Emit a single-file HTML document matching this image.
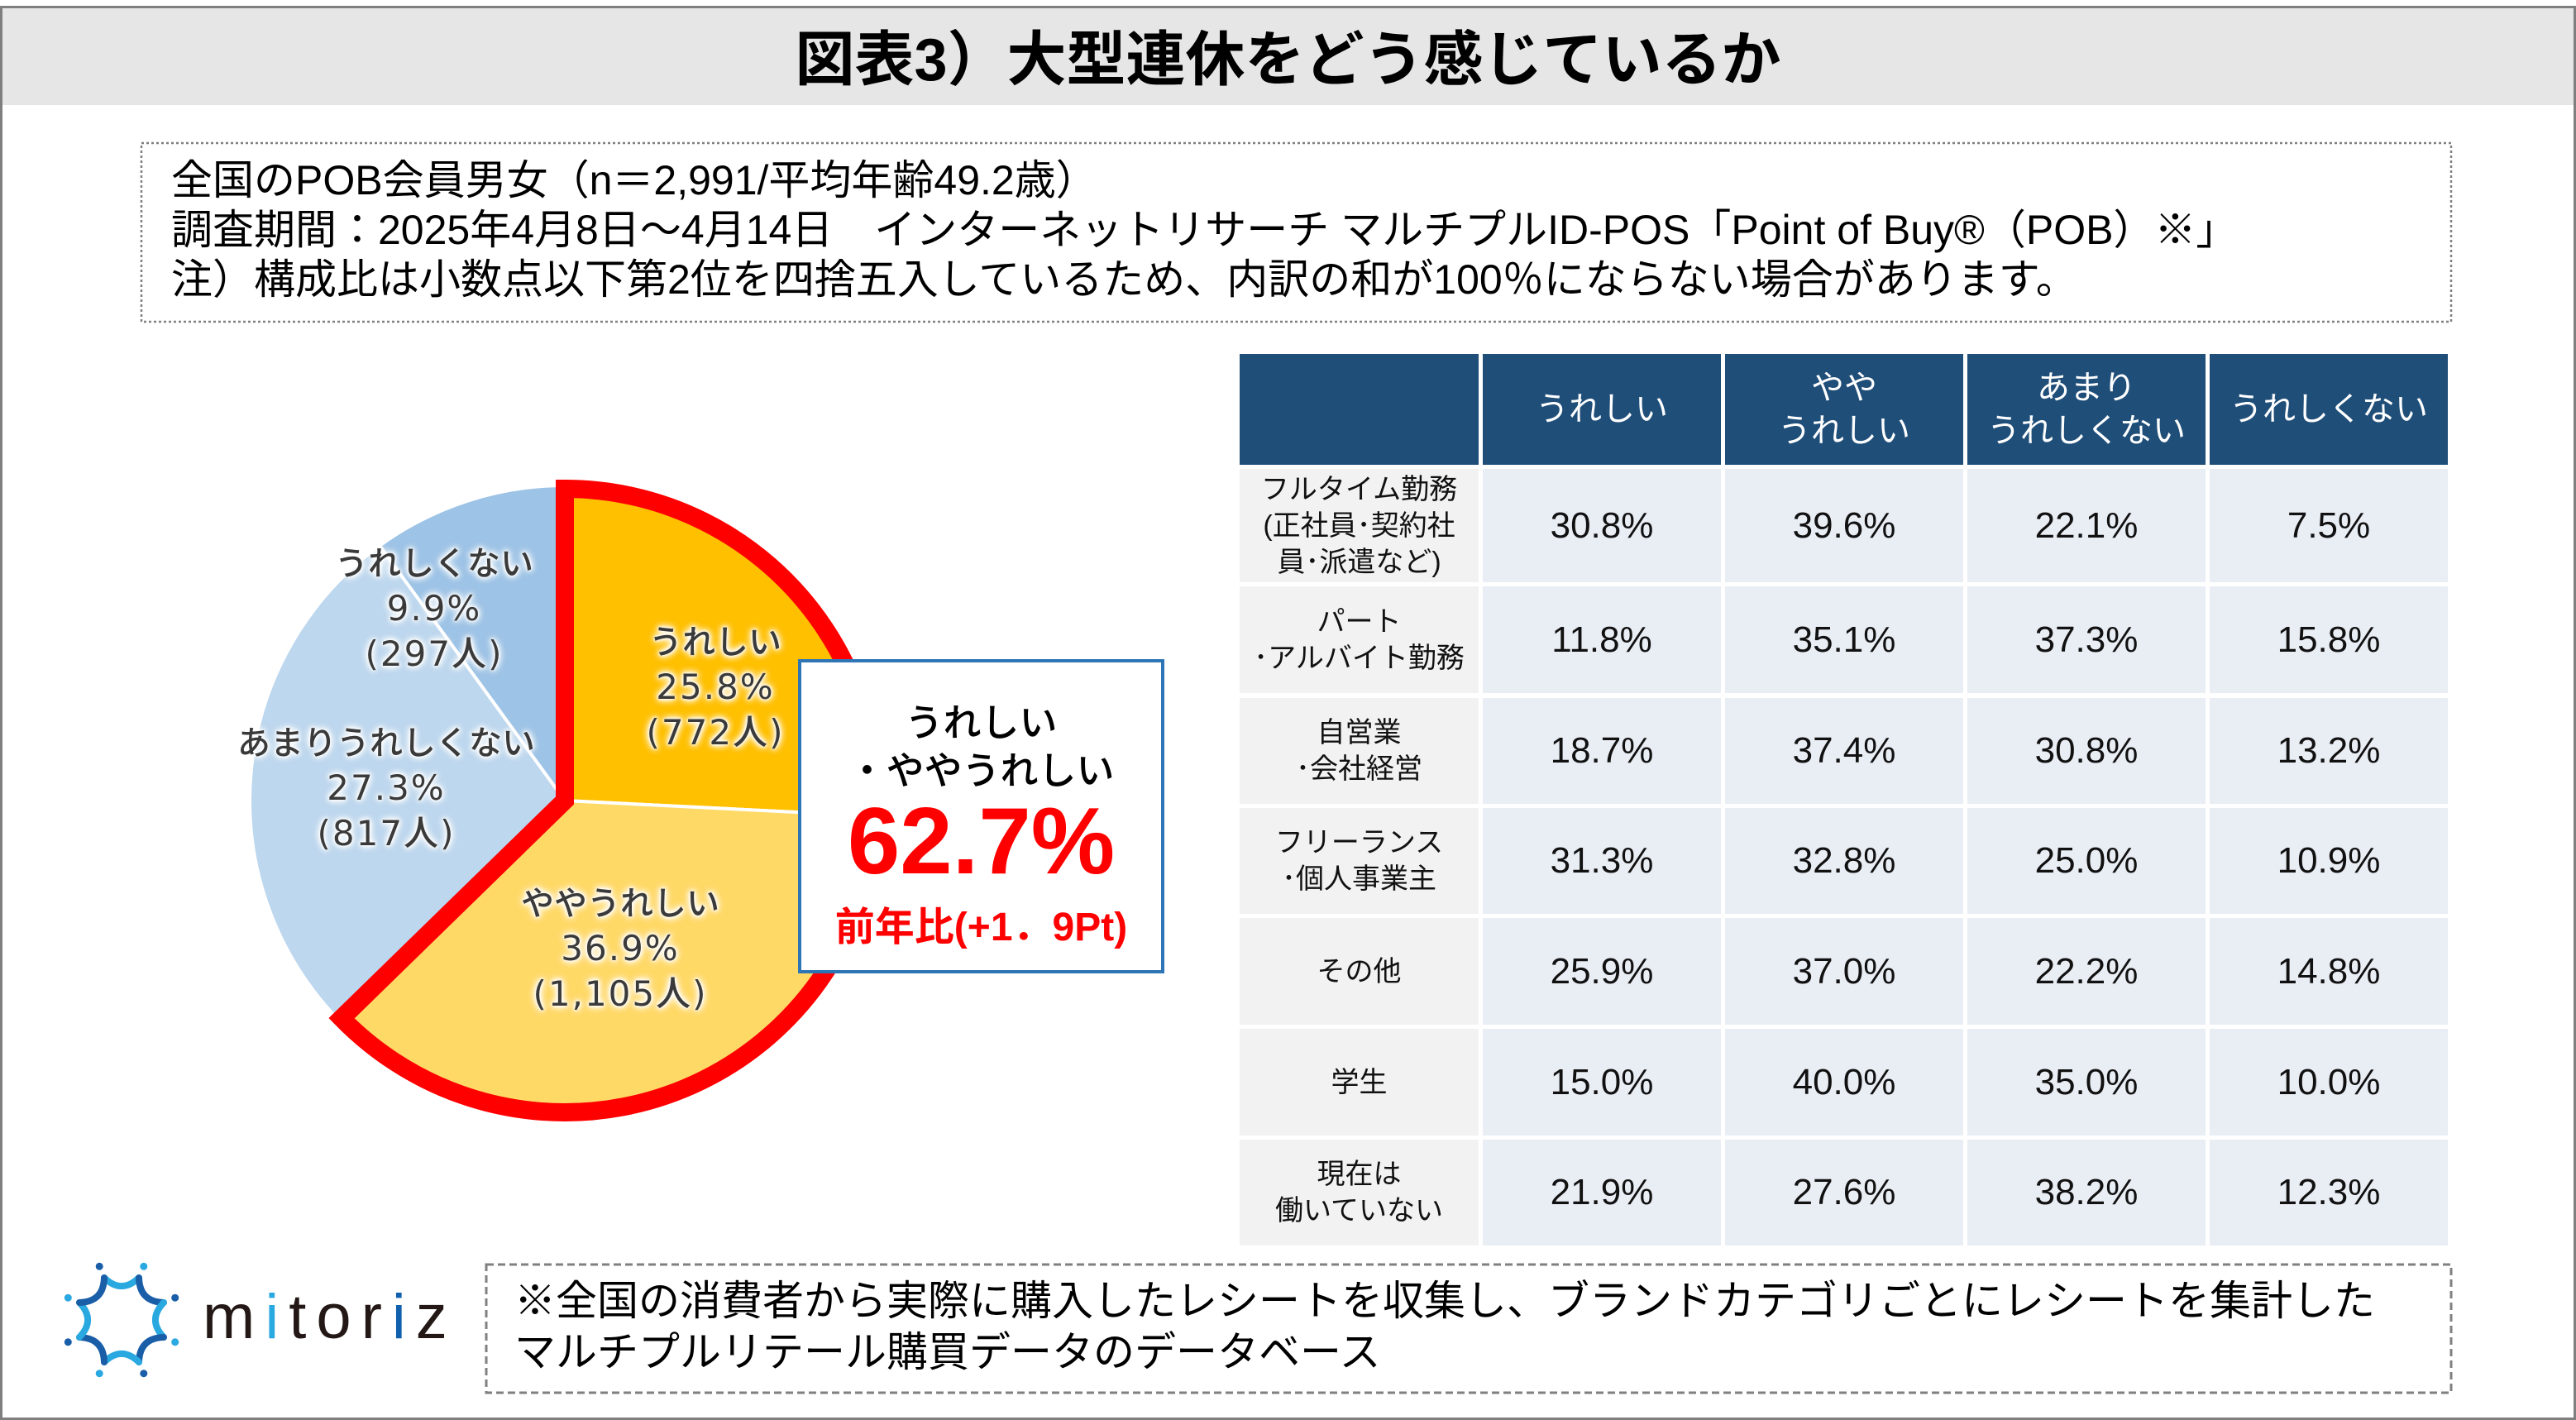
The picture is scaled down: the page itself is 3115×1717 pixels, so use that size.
<!DOCTYPE html>
<html><head><meta charset="utf-8">
<style>
*{margin:0;padding:0;box-sizing:border-box}
html,body{width:3115px;height:1717px;background:#fff;overflow:hidden}
body{position:relative;font-family:"Liberation Sans","Noto Sans CJK JP",sans-serif;color:#000}
.a{position:absolute}
#frame{left:0;top:7px;width:3115px;height:1710px;border:3px solid #7f7f7f}
#band{left:3px;top:10px;width:3109px;height:117px;background:#e6e6e6}
#title{left:0;top:15px;width:3115px;height:117px;line-height:117px;text-align:center;font-size:72px;font-weight:bold;white-space:nowrap}
.info{left:207px;font-size:50px;line-height:60px;white-space:nowrap}
.lbl{width:500px;text-align:center;font-size:40px;line-height:54px;color:#3a3a3a;font-weight:500;white-space:nowrap;
text-shadow:0 0 3px #fff,0 0 5px #fff,0 0 8px #fff,0 0 10px #fff,0 0 10px #fff}
.lbl .n{font-family:"DejaVu Sans","Noto Sans CJK JP",sans-serif;font-size:42px;letter-spacing:2px}
.c{position:absolute;display:flex;align-items:center;justify-content:center;text-align:center;white-space:nowrap}
.h{background:#1f4e79;color:#fff;font-size:40px;line-height:52px}
.l{background:#f2f2f2;font-size:34px;line-height:44px;color:#111}
.v{background:#e9edf4;font-size:44px;color:#111}
.ct{left:965px;width:443px;text-align:center;white-space:nowrap}
</style></head><body>

<div class="a" id="frame"></div>
<div class="a" id="band"></div>
<div class="a" id="title">図表3）大型連休をどう感じているか</div>

<svg class="a" style="left:0;top:0" width="3115" height="1717">
  <rect x="171" y="173" width="2793" height="216" fill="none" stroke="#808080" stroke-width="2.5" stroke-dasharray="3 3"/>
  <rect x="588" y="1529" width="2376" height="155" fill="none" stroke="#808080" stroke-width="3" stroke-dasharray="9 5"/>
  <!-- pie -->
  <path d="M683,968 L683,591 A377,377 0 0 1 1059.5,986.9 Z" fill="#FFC000" stroke="#fff" stroke-width="4"/>
  <path d="M683,968 L1059.5,986.9 A377,377 0 0 1 413.05,1231.2 Z" fill="#FFD966" stroke="#fff" stroke-width="4"/>
  <path d="M683,968 L410.2,1233.96 A381,381 0 0 1 459.1,659.8 Z" fill="#BDD7EE" stroke="#fff" stroke-width="4"/>
  <path d="M683,968 L459.1,659.8 A381,381 0 0 1 683,587 Z" fill="#9DC3E6" stroke="#fff" stroke-width="4"/>
  <path d="M683,968 L683,591 A377,377 0 1 1 413.05,1231.2 Z" fill="none" stroke="#FF0000" stroke-width="22" stroke-linejoin="miter"/>
  <!-- logo -->
  <g fill="none" stroke-width="8" stroke-linecap="round">
    <path d="M126,1545 Q147,1565.2 168,1545" stroke="#2aa8e0"/>
    <path d="M168,1545 Q168.8,1574.2 198,1575" stroke="#1a5ea8"/>
    <path d="M198,1575 Q177.8,1596 198,1617" stroke="#2aa8e0"/>
    <path d="M198,1617 Q168.8,1617.8 168,1647" stroke="#1a5ea8"/>
    <path d="M168,1647 Q147,1626.8 126,1647" stroke="#2aa8e0"/>
    <path d="M126,1647 Q125.2,1617.8 96,1617" stroke="#1a5ea8"/>
    <path d="M96,1617 Q116.2,1596 96,1575" stroke="#2aa8e0"/>
    <path d="M96,1575 Q125.2,1574.2 126,1545" stroke="#1a5ea8"/>
  </g>
  <circle cx="120.2" cy="1531.3" r="4.5" fill="#1a5ea8"/>
  <circle cx="173.8" cy="1531.3" r="4.5" fill="#2aa8e0"/>
  <circle cx="211.7" cy="1569.2" r="4.5" fill="#1a5ea8"/>
  <circle cx="211.7" cy="1622.8" r="4.5" fill="#2aa8e0"/>
  <circle cx="173.8" cy="1660.7" r="4.5" fill="#1a5ea8"/>
  <circle cx="120.2" cy="1660.7" r="4.5" fill="#2aa8e0"/>
  <circle cx="82.3" cy="1622.8" r="4.5" fill="#1a5ea8"/>
  <circle cx="82.3" cy="1569.2" r="4.5" fill="#2aa8e0"/>
  <text x="245" y="1618" font-family="Liberation Sans, sans-serif" font-size="76" letter-spacing="12" fill="#231815">m<tspan fill="#2aa8e0">i</tspan>tor<tspan fill="#1060ae">i</tspan>z</text>
</svg>

<div class="a info" style="top:188px">全国のPOB会員男女（n＝2,991/平均年齢49.2歳）</div>
<div class="a info" style="top:248px">調査期間：2025年4月8日～4月14日　インターネットリサーチ マルチプルID-POS「Point of Buy®（POB）※」</div>
<div class="a info" style="top:308px">注）構成比は小数点以下第2位を四捨五入しているため、内訳の和が100％にならない場合があります。</div>

<!-- pie labels -->
<div class="a lbl" style="left:275px;top:655px">うれしくない<br><span class="n">9.9%</span><br><span class="n">(297人)</span></div>
<div class="a lbl" style="left:615px;top:750px">うれしい<br><span class="n">25.8%</span><br><span class="n">(772人)</span></div>
<div class="a lbl" style="left:217px;top:872px">あまりうれしくない<br><span class="n">27.3%</span><br><span class="n">(817人)</span></div>
<div class="a lbl" style="left:500px;top:1066px">ややうれしい<br><span class="n">36.9%</span><br><span class="n">(1,105人)</span></div>

<!-- callout -->
<div class="a" style="left:965px;top:797px;width:443px;height:380px;background:#fff;border:4px solid #2e75b6"></div>
<div class="a ct" style="top:846px;font-size:46px;line-height:56px;font-weight:500">うれしい</div>
<div class="a ct" style="top:904px;font-size:46px;line-height:56px;font-weight:500">・ややうれしい</div>
<div class="a ct" style="top:958px;font-size:114px;line-height:120px;font-weight:bold;color:#ff0000">62.7%</div>
<div class="a ct" style="top:1095px;font-size:48px;line-height:54px;font-weight:bold;color:#ff0000">前年比(+1．9Pt)</div>

<!-- table header -->
<div class="c h" style="left:1499px;top:428px;width:289px;height:134px"></div>
<div class="c h" style="left:1793px;top:428px;width:288px;height:134px">うれしい</div>
<div class="c h" style="left:2086px;top:428px;width:288px;height:134px">やや<br>うれしい</div>
<div class="c h" style="left:2379px;top:428px;width:288px;height:134px">あまり<br>うれしくない</div>
<div class="c h" style="left:2672px;top:428px;width:288px;height:134px">うれしくない</div>

<!-- row 1 -->
<div class="c l" style="left:1499px;top:567px;width:289px;height:137px">フルタイム勤務<br>(正社員･契約社<br>員･派遣など)</div>
<div class="c v" style="left:1793px;top:567px;width:288px;height:137px">30.8%</div>
<div class="c v" style="left:2086px;top:567px;width:288px;height:137px">39.6%</div>
<div class="c v" style="left:2379px;top:567px;width:288px;height:137px">22.1%</div>
<div class="c v" style="left:2672px;top:567px;width:288px;height:137px">7.5%</div>
<!-- row 2 -->
<div class="c l" style="left:1499px;top:709px;width:289px;height:129px">パート<br>･アルバイト勤務</div>
<div class="c v" style="left:1793px;top:709px;width:288px;height:129px">11.8%</div>
<div class="c v" style="left:2086px;top:709px;width:288px;height:129px">35.1%</div>
<div class="c v" style="left:2379px;top:709px;width:288px;height:129px">37.3%</div>
<div class="c v" style="left:2672px;top:709px;width:288px;height:129px">15.8%</div>
<!-- row 3 -->
<div class="c l" style="left:1499px;top:844px;width:289px;height:128px">自営業<br>･会社経営</div>
<div class="c v" style="left:1793px;top:844px;width:288px;height:128px">18.7%</div>
<div class="c v" style="left:2086px;top:844px;width:288px;height:128px">37.4%</div>
<div class="c v" style="left:2379px;top:844px;width:288px;height:128px">30.8%</div>
<div class="c v" style="left:2672px;top:844px;width:288px;height:128px">13.2%</div>
<!-- row 4 -->
<div class="c l" style="left:1499px;top:977px;width:289px;height:128px">フリーランス<br>･個人事業主</div>
<div class="c v" style="left:1793px;top:977px;width:288px;height:128px">31.3%</div>
<div class="c v" style="left:2086px;top:977px;width:288px;height:128px">32.8%</div>
<div class="c v" style="left:2379px;top:977px;width:288px;height:128px">25.0%</div>
<div class="c v" style="left:2672px;top:977px;width:288px;height:128px">10.9%</div>
<!-- row 5 -->
<div class="c l" style="left:1499px;top:1110px;width:289px;height:129px">その他</div>
<div class="c v" style="left:1793px;top:1110px;width:288px;height:129px">25.9%</div>
<div class="c v" style="left:2086px;top:1110px;width:288px;height:129px">37.0%</div>
<div class="c v" style="left:2379px;top:1110px;width:288px;height:129px">22.2%</div>
<div class="c v" style="left:2672px;top:1110px;width:288px;height:129px">14.8%</div>
<!-- row 6 -->
<div class="c l" style="left:1499px;top:1244px;width:289px;height:129px">学生</div>
<div class="c v" style="left:1793px;top:1244px;width:288px;height:129px">15.0%</div>
<div class="c v" style="left:2086px;top:1244px;width:288px;height:129px">40.0%</div>
<div class="c v" style="left:2379px;top:1244px;width:288px;height:129px">35.0%</div>
<div class="c v" style="left:2672px;top:1244px;width:288px;height:129px">10.0%</div>
<!-- row 7 -->
<div class="c l" style="left:1499px;top:1378px;width:289px;height:128px">現在は<br>働いていない</div>
<div class="c v" style="left:1793px;top:1378px;width:288px;height:128px">21.9%</div>
<div class="c v" style="left:2086px;top:1378px;width:288px;height:128px">27.6%</div>
<div class="c v" style="left:2379px;top:1378px;width:288px;height:128px">38.2%</div>
<div class="c v" style="left:2672px;top:1378px;width:288px;height:128px">12.3%</div>

<!-- bottom note -->
<div class="a" style="left:622px;top:1542px;font-size:50px;line-height:62px;white-space:nowrap">※全国の消費者から実際に購入したレシートを収集し、ブランドカテゴリごとにレシートを集計した<br>マルチプルリテール購買データのデータベース</div>

</body></html>
